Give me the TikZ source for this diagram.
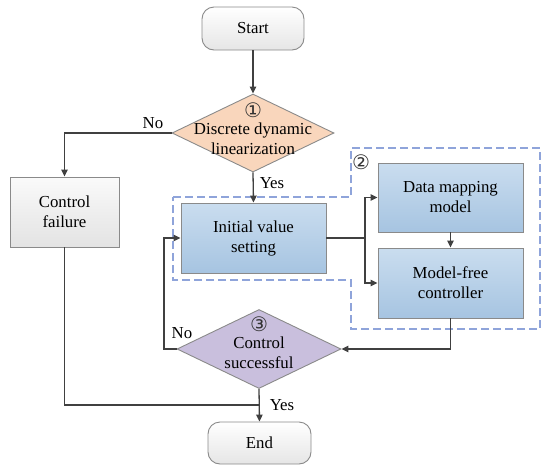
\documentclass[tikz,border=0pt]{standalone}
\usepackage{fontspec}
\setmainfont{Liberation Serif}
\newfontfamily\dvfont{DejaVu Sans}
\usetikzlibrary{shapes.geometric,arrows.meta}
\definecolor{lineC}{HTML}{404040}
\definecolor{borderC}{HTML}{8A8A8A}
\definecolor{blueTop}{HTML}{CADDEF}
\definecolor{blueBot}{HTML}{A6C4E1}
\definecolor{peach}{HTML}{F9D6BC}
\definecolor{lav}{HTML}{C9BFDD}
\definecolor{dashC}{HTML}{8FA4DA}
\tikzset{
  txt/.style={font=\fontsize{16.8}{20}\selectfont, align=center, text=black},
  lbl/.style={font=\fontsize{16.8}{20}\selectfont, text=black, inner sep=0pt},
  num/.style={font=\dvfont\fontsize{20}{20}\selectfont, text=black!80, inner sep=0pt},
  term/.style={draw=borderC, line width=0.9pt, rounded corners=12pt, top color=white, bottom color=black!10, minimum width=102pt, minimum height=43pt, inner sep=0pt},
  bluebox/.style={draw=borderC, line width=0.9pt, top color=blueTop, bottom color=blueBot, minimum width=145pt, minimum height=70pt, inner sep=0pt},
  graybox/.style={draw=borderC, line width=0.9pt, top color=black!2, bottom color=black!11, minimum width=109pt, minimum height=70pt, inner sep=0pt},
  dia/.style={diamond, draw=borderC, line width=0.9pt, inner sep=0pt, minimum width=#1, minimum height=78pt},
  conn/.style={draw=lineC, line width=1.3pt},
  arr/.style={conn, -{Triangle[length=7pt,width=6.5pt]}},
  region/.style={draw=dashC, line width=1.2pt, dash pattern=on 8pt off 4pt}
}
\begin{document}
\begin{tikzpicture}[x=1pt,y=-1pt]
\useasboundingbox (0,0) rectangle (550,472);
% dashed region
\draw[region] (173,197) -- (351,197) -- (351,148) -- (540,148) -- (540,329) -- (351,329) -- (351,280) -- (173,280) -- cycle;
% nodes
\node[term] (start) at (253,28.5) {};
\node[txt] (starttxt) at (start) {Start};
\node[dia=162pt, fill=peach] (d1) at (253,133) {};
\node[txt] (d1txt) at (253,139) {Discrete dynamic\\linearization};
\node[num] (n1) at (253,110) {①};
\node[graybox] (fail) at (64.5,212) {};
\node[txt] (failtxt) at (fail) {Control\\failure};
\node[bluebox] (init) at (253.5,238) {};
\node[txt] (inittxt) at (init) {Initial value\\setting};
\node[bluebox, minimum height=69pt] (dm) at (450.5,197.5) {};
\node[txt] (dmtxt) at (dm) {Data mapping\\model};
\node[bluebox] (mf) at (450.5,283) {};
\node[txt] (mftxt) at (mf) {Model-free\\controller};
\node[num] (n2) at (361,162) {②};
\node[dia=164pt, minimum height=79pt, fill=lav] (d3) at (259,349) {};
\node[txt] (d3txt) at (259,352.5) {Control\\successful};
\node[num] (n3) at (259,324) {③};
\node[term, minimum width=103pt, minimum height=42pt] (end) at (259.5,443) {};
\node[txt] (endtxt) at (end) {End};
% coordinates
\coordinate (br) at (365,238);
\coordinate (nl) at (164,349);
\coordinate (j) at (259,405);
% connectors
\draw[arr] (start.south) -- (d1.north);
\draw[arr] (d1.west) -| (fail.north);
\draw[arr] (d1.south) -- (init.north);
\draw[conn] (init.east) -- (br);
\draw[arr] (br) |- (dm.west);
\draw[arr] (br) |- (mf.west);
\draw[arr] (dm.south) -- (mf.north);
\draw[arr] (mf.south) |- (d3.east);
\draw[arr] (d3.west) -- (nl) |- (init.west);
\draw[conn] (fail.south) |- (j);
\draw[arr] (d3.south) -- (end.north);
% labels
\node[lbl] (no1) at (153,123) {No};
\node[lbl] (yes1) at (272,183) {Yes};
\node[lbl] (no2) at (182,333) {No};
\node[lbl] (yes2) at (282,405) {Yes};
\end{tikzpicture}
\end{document}
